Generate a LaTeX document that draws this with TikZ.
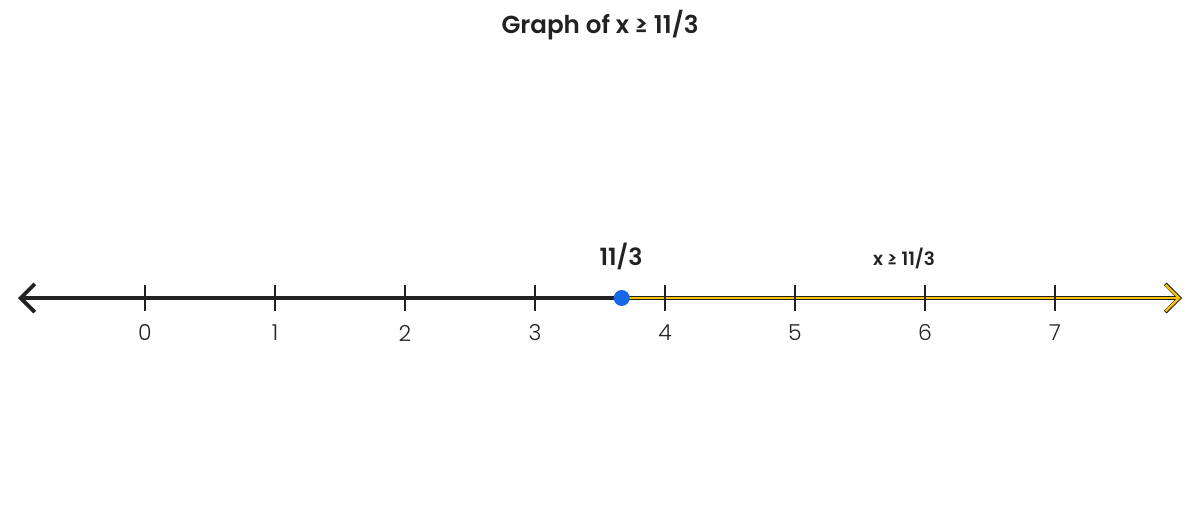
\documentclass[tikz,border=0pt]{standalone}
\usepackage{fontspec}
\setmainfont{Poppins}[BoldFont=* SemiBold]
\newfontfamily\lightfont{Poppins}[UprightFont=* Light]
\usepackage{xcolor}
\definecolor{lineblack}{RGB}{34,34,34}
\definecolor{rayyellow}{RGB}{250,196,0}
\definecolor{dotblue}{RGB}{22,104,232}
\usetikzlibrary{arrows.meta, positioning}
\tikzset{
  axisline/.style={line width=2.6pt, color=lineblack, {Straight Barb[length=8pt,width=16pt,line width=2.2pt]}-{Straight Barb[length=8pt,width=16pt,line width=2.2pt]}},
  rayline/.style={line width=1.5pt, color=rayyellow, -{Straight Barb[length=7.6pt,width=15pt,line width=1.3pt]}, shorten >=0.8pt},
  tickmark/.style={line width=0.8pt, color=lineblack},
  ticklabel/.style={font=\lightfont\fontsize{12.5}{14}\selectfont, text=lineblack},
  pointlabel/.style={font=\fontsize{13.5}{15}\selectfont\bfseries, text=lineblack},
  raylabel/.style={font=\fontsize{10.5}{12}\selectfont\bfseries, text=lineblack},
  titlelabel/.style={font=\fontsize{14}{16}\selectfont\bfseries, text=lineblack},
  closeddot/.style={circle, fill=dotblue, inner sep=0pt, minimum size=0.32cm},
}
\begin{document}
\begin{tikzpicture}[x=0.02cm, y=-0.02cm]
  \useasboundingbox (0,0) rectangle (1200,530);

  % number line ends
  \coordinate (left)  at (18,298);
  \coordinate (right) at (1182,298);
  \coordinate (pt)    at (621.7,298);

  \draw [axisline] (left) -- (right);
  \draw [rayline] (pt) -- (right);

  % ticks and labels
  \foreach \n in {0,...,7} {
    \draw [tickmark] (145+130*\n,285) -- (145+130*\n,311);
    \node (tick\n) [ticklabel] at (145+130*\n,333) {\n};
  }

  \node (dot) [closeddot] at (pt) {};
  \node (ptlabel) [pointlabel] at (621,256) {11/3};
  \node (raytext) [raylabel] at (904,258) {x ≥ 11/3};
  \node (title) [titlelabel] at (600,25) {Graph of x ≥ 11/3};
\end{tikzpicture}
\end{document}
